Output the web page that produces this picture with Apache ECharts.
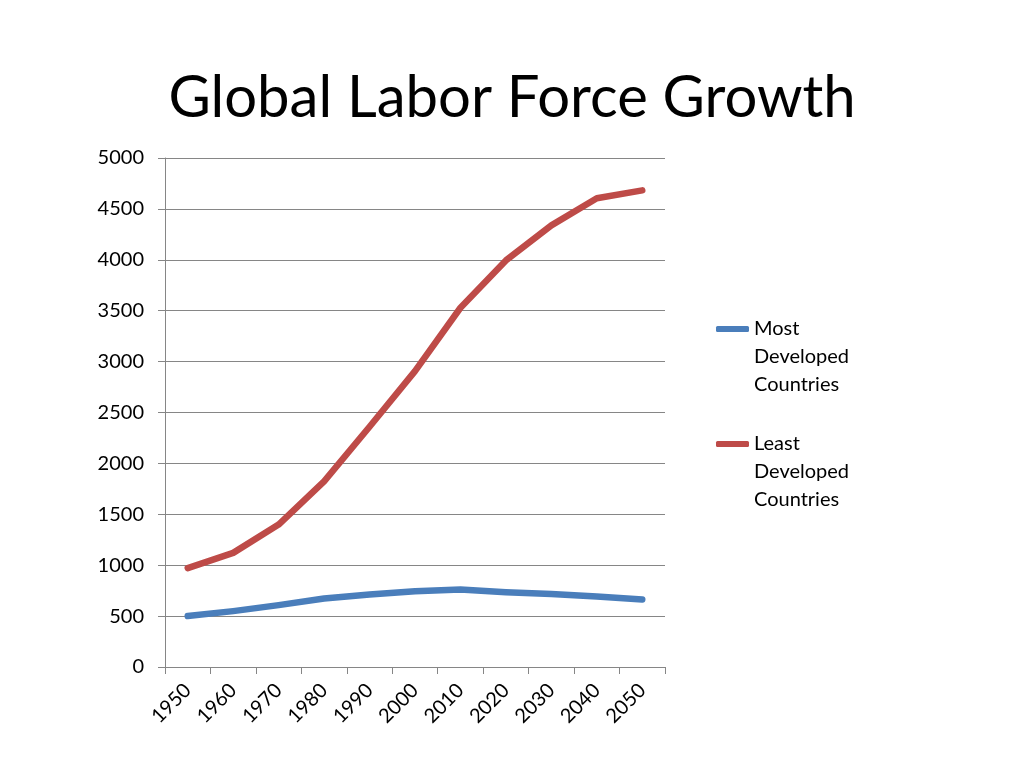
<!DOCTYPE html>
<html>
<head>
<meta charset="utf-8">
<script src="https://cdn.jsdelivr.net/npm/echarts@6/dist/echarts.min.js"></script>
<style>
html,body{margin:0;padding:0;background:#fff;}
#chart{width:1024px;height:768px;}
</style>
</head>
<body>
<div id="chart"></div>
<script>
// 劳动力增长
var years = ['1950','1960','1970','1980','1990','2000','2010','2020','2030','2040','2050'];
var mostDeveloped = [500, 549, 608, 673, 712, 745, 761, 735, 716, 693, 663];
var leastDeveloped = [972, 1121, 1399, 1824, 2360, 2906, 3529, 3994, 4338, 4604, 4682];
var seriesNames = ['Most Developed Countries', 'Least Developed Countries'];
var seriesColors = ['#4a7ebb', '#be4b48'];

var font = 'Lato';
var myChart = echarts.init(document.getElementById('chart'));

// 图例：图标对齐第一行文字
function legendFor(i, top){
	return {
		data: [seriesNames[i]],
		left: 716,
		top: top,
		padding: 0,
		itemWidth: 33,
		itemHeight: 6,
		icon: 'roundRect',
		formatter: function(name){
			var words = name.split(' ');
			return '\n\n' + words.join('\n');
		},
		textStyle: {
			fontFamily: font,
			fontSize: 20,
			color: '#000',
			lineHeight: 28
		}
	};
}

var option = {
	animation: false,
	title: {
		text: 'Global Labor Force Growth',
		left: 'center',
		top: 64,
		textStyle: {
			fontFamily: font,
			fontWeight: 'normal',
			fontSize: 58,
			color: '#000'
		}
	},
	legend: [legendFor(0, 259), legendFor(1, 374)],
	grid: {
		left: 165,
		right: 359,
		top: 158,
		bottom: 101
	},
	xAxis: {
		type: 'category',
		data: years,
		boundaryGap: true,
		axisLine: { lineStyle: { color: '#868686', width: 1 } },
		axisTick: { show: true, interval: 0, length: 7, lineStyle: { color: '#868686' } },
		axisLabel: {
			interval: 0,
			rotate: 45,
			margin: 20,
			fontFamily: font,
			fontSize: 20,
			color: '#000'
		}
	},
	yAxis: {
		type: 'value',
		min: 0,
		max: 5000,
		interval: 500,
		axisLine: { show: true, lineStyle: { color: '#868686', width: 1 } },
		axisTick: { show: true, length: 7, lineStyle: { color: '#868686' } },
		splitLine: { lineStyle: { color: '#868686', width: 1 } },
		axisLabel: {
			margin: 21,
			fontFamily: font,
			fontSize: 20,
			color: '#000',
			formatter: function(v){ return String(v); }
		}
	},
	series: [
		{
			name: seriesNames[0],
			type: 'line',
			data: mostDeveloped,
			showSymbol: false,
			symbol: 'none',
			color: seriesColors[0],
			lineStyle: { width: 6.5, cap: 'round', join: 'round' }
		},
		{
			name: seriesNames[1],
			type: 'line',
			data: leastDeveloped,
			showSymbol: false,
			symbol: 'none',
			color: seriesColors[1],
			lineStyle: { width: 6.5, cap: 'round', join: 'round' }
		}
	]
};
myChart.setOption(option);
</script>
</body>
</html>
